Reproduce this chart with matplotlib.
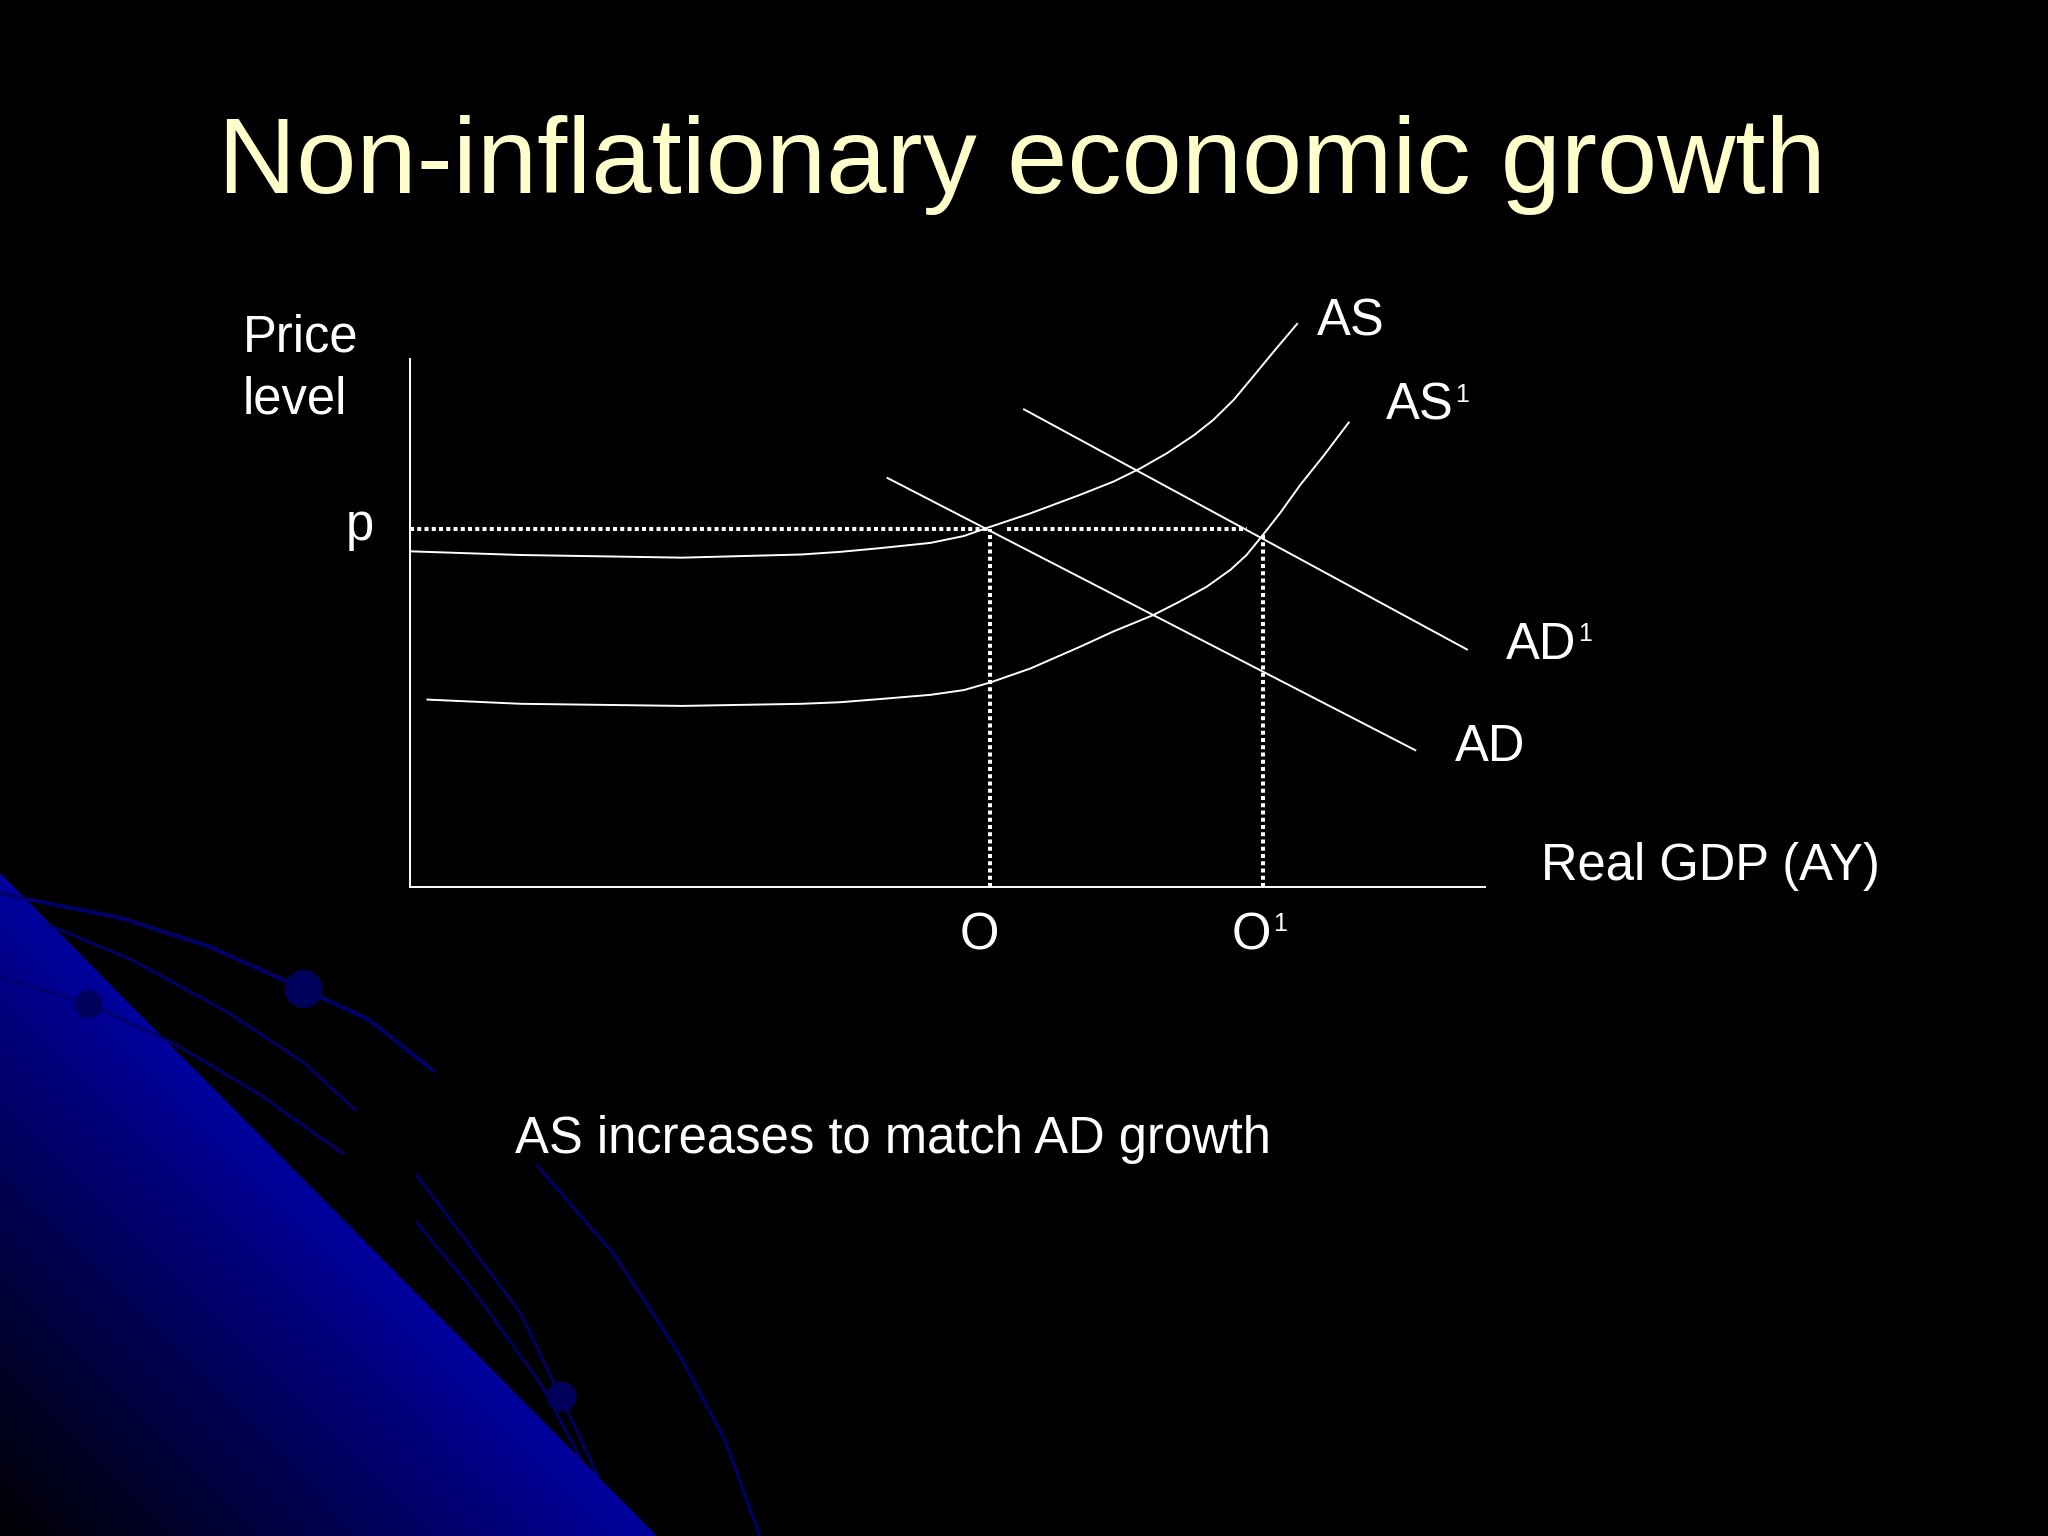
import numpy as np
import matplotlib
matplotlib.use('Agg')
import matplotlib.pyplot as plt
from matplotlib.patches import Polygon, Circle

plt.rcParams['font.family'] = ['Liberation Sans', 'DejaVu Sans']

W, H = 2048, 1536

# ---- diagram data (x = real GDP, y = price level, both 0-100 units) ----
as_x = [0, 10.3, 25.3, 36.4, 40.0, 43.7, 48.4, 51.5, 53.6, 57.7, 62.3, 65.4, 67.9,
        70.4, 72.9, 74.7, 76.6, 78.4, 80.3, 82.5]
as_y = [63.6, 62.9, 62.4, 63.0, 63.5, 64.2, 65.2, 66.5, 68.0, 70.8, 74.3, 76.8, 79.3,
        82.2, 85.6, 88.5, 92.3, 96.7, 101.4, 106.7]
as1_x = [1.6, 10.3, 25.3, 36.4, 40.0, 43.7, 48.4, 51.5, 53.9, 57.7, 62.3, 65.4, 69.1,
         71.6, 74.1, 76.3, 77.8, 79.2, 80.9, 82.8, 85.0, 87.3]
as1_y = [35.5, 34.7, 34.3, 34.7, 35.0, 35.6, 36.4, 37.3, 38.7, 41.4, 45.5, 48.4, 51.5,
         54.1, 56.9, 60.1, 62.9, 66.4, 70.8, 76.2, 81.8, 88.0]
ad_x = [44.4, 93.5]
ad_y = [77.5, 25.9]
ad1_x = [57.1, 98.3]
ad1_y = [90.5, 45.0]
p_level = 67.8
o_qty = 53.9
o1_qty = 79.3

title = 'Non-inflationary economic growth'
caption = 'AS increases to match AD growth'

# ---- background decoration (pixel coords) ----
tri_pts = [(0, 873), (657, 1536), (0, 1536)]
arc_a1 = [(0, 893), (21.7, 898), (121, 918), (208, 946), (303.6, 989), (368.6, 1019.5), (433.6, 1071)]
arc_a2 = [(537.7, 1166), (615.8, 1256.6), (680, 1355.7), (725, 1440), (760, 1536)]
arc_b = [(47.7, 924.7), (130, 959), (225.5, 1010.9), (303.6, 1062.6), (355.6, 1110)]
arc_b2 = [(416.3, 1174.7), (520.4, 1312.6), (559.4, 1394.5), (598.4, 1476.4)]
arc_c = [(0, 976.4), (88.9, 1004.4), (173.5, 1043.2), (260.2, 1094.9), (342.6, 1153.1)]
arc_c2 = [(416.3, 1222), (477, 1295.3), (542, 1385.9), (581, 1459)]
balls = [(303.6, 989, 19), (88.9, 1004.4, 14), (561.6, 1396.6, 15)]

fig = plt.figure(figsize=(W / 100, H / 100), dpi=100)
fig.patch.set_facecolor('black')

bg = fig.add_axes([0, 0, 1, 1])
bg.set_facecolor('black')

# blue gradient triangle, bright along the diagonal edge
yy, xx = np.mgrid[0:H:4, 0:W:4].astype(float)
dist = -((xx * 663) - (yy - 873) * 657) / 933.0
t = np.clip(1 - dist / 480.0, 0, 1)
img = np.zeros(xx.shape + (3,))
img[..., 2] = 0.62 * t ** 1.1
im = bg.imshow(img, extent=(0, W, H, 0), interpolation='bilinear', aspect='auto', zorder=0)
tri = Polygon(tri_pts, closed=True, facecolor='none', edgecolor='none')
bg.add_patch(tri)
im.set_clip_path(tri)

for arc, lw in [(arc_a1, 2.8), (arc_a2, 2.2), (arc_b, 2.1), (arc_b2, 2.0), (arc_c, 2.1), (arc_c2, 2.0)]:
    ax_, ay_ = zip(*arc)
    bg.plot(ax_, ay_, color='#00006c', lw=lw, solid_capstyle='round', zorder=1)
for bx, by, r in balls:
    bg.add_patch(Circle((bx, by), r, facecolor='#00005a', edgecolor='none', zorder=2))

bg.set_xlim(0, W)
bg.set_ylim(H, 0)
bg.axis('off')

# ---- the AS/AD diagram ----
ax = fig.add_axes([0.2003, 0.4226, 0.5249, 0.3435])
ax.set_facecolor('none')
ax.set_xlim(0, 100)
ax.set_ylim(0, 100)
for s in ['top', 'right']:
    ax.spines[s].set_visible(False)
for s in ['left', 'bottom']:
    ax.spines[s].set_color('white')
    ax.spines[s].set_linewidth(1.4)
ax.set_xticks([])
ax.set_yticks([])

curve_kw = dict(color='white', lw=1.4, clip_on=False)
ax.plot(as_x, as_y, **curve_kw)
ax.plot(as1_x, as1_y, **curve_kw)
ax.plot(ad_x, ad_y, **curve_kw)
ax.plot(ad1_x, ad1_y, **curve_kw)

dot_kw = dict(color='white', lw=2.9, linestyle=(0, (1.0, 0.8)), solid_capstyle='butt',
              dash_capstyle='butt', clip_on=False)
ax.plot([0, o_qty], [p_level, p_level], **dot_kw)
ax.plot([55.5, 77.8], [p_level, p_level], **dot_kw)
ax.plot([o_qty, o_qty], [0, p_level], **dot_kw)
ax.plot([o1_qty, o1_qty], [0, 66.8], **dot_kw)

# ---- texts ----
lab = dict(color='white', fontsize=36.5, va='baseline')
bg.text(W / 2 - 2, 193, title, ha='center', va='baseline', fontsize=78, color='#FFFFCC')
bg.text(243, 351, 'Price', **lab)
bg.text(243, 413, 'level', **lab)
bg.text(346, 540, 'p', **lab)
bg.text(1541, 880, 'Real GDP (AY)', **lab)
bg.text(515, 1153, caption, **lab)
bg.text(1317, 335, 'AS', **lab)
bg.text(1455, 761, 'AD', **lab)
bg.text(979, 949, 'O', ha='center', color='white', fontsize=36.5, va='baseline')


def sup_label(x, y, s):
    t = bg.text(x, y, s, **lab)
    bg.annotate('1', xy=(1, 1), xycoords=t, xytext=(1, -1), textcoords='offset points',
                ha='left', va='top', fontsize=18, color='white')


sup_label(1386, 420, 'AS')
sup_label(1506, 659, 'AD')
sup_label(1232, 949, 'O')

fig.savefig('out.png', dpi=100, facecolor='black')
